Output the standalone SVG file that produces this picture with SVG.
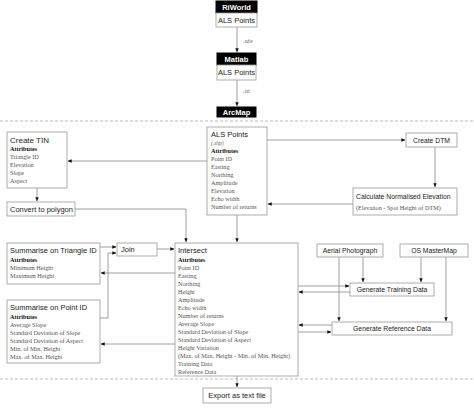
<svg xmlns="http://www.w3.org/2000/svg" width="474" height="412" viewBox="0 0 474 412">
<defs>
<marker id="ah" viewBox="0 0 6 6" refX="5.5" refY="3" markerWidth="4" markerHeight="4" orient="auto" markerUnits="userSpaceOnUse">
<path d="M0,0.5 L6,3 L0,5.5 z" fill="#111"/>
</marker>
<style>
.bx{fill:#fff;stroke:#999;stroke-width:0.8}
.bk{fill:#000;stroke:#000}
.t{font-family:"Liberation Sans","Open Sans",sans-serif;fill:#222}
.tw{font-family:"Liberation Sans","Open Sans",sans-serif;fill:#fff;font-size:7.5px;text-anchor:middle}
.s{font-family:"Liberation Serif","DejaVu Serif",serif;font-size:6.2px;fill:#555}
.sb{font-family:"Liberation Serif","DejaVu Serif",serif;font-size:6.2px;fill:#111;font-weight:bold}
.it{font-family:"Liberation Serif","DejaVu Serif",serif;font-size:5.5px;fill:#666;font-style:italic}
.c{fill:none;stroke:#888;stroke-width:0.8;marker-end:url(#ah)}
.cn{fill:none;stroke:#888;stroke-width:0.8}
.d{stroke:#aaa;stroke-width:0.8;stroke-dasharray:3,2}
</style>
</defs>
<rect width="474" height="412" fill="#fff"/>

<g id="connectors">
<path class="c" d="M237,27 V52"/>
<path class="c" d="M237,80 V106"/>
<path class="c" d="M207,161 H68"/>
<path class="c" d="M37,188 V201"/>
<path class="cn" d="M75,209 H186"/>
<path class="c" d="M186,209 V242"/>
<path class="c" d="M237,215 V242"/>
<path class="c" d="M267,140 H405"/>
<path class="c" d="M435,147 V187"/>
<path class="c" d="M353,204 H268"/>
<path class="c" d="M100,247 H116"/>
<path class="c" d="M100,318 H108 V253 H116"/>
<path class="c" d="M157,249 H174"/>
<path class="c" d="M175,273 H101"/>
<path class="c" d="M175,344 H101"/>
<path class="c" d="M237,376 V387"/>
<path class="c" d="M298,286 H349"/>
<path class="c" d="M350,292 H299"/>
<path class="c" d="M332,325 H299"/>
<path class="c" d="M298,332 H331"/>
<path class="c" d="M363,257 V282"/>
<path class="c" d="M339,257 V321"/>
<path class="c" d="M421,257 V282"/>
<path class="c" d="M446,257 V321"/>
<text class="it" x="243" y="43">.sdw</text>
<text class="it" x="243" y="93">.txt</text>
</g>

<line class="d" x1="0" y1="121" x2="474" y2="121"/>
<line class="d" x1="0" y1="379" x2="474" y2="379"/>

<g id="riworld">
<rect class="bk" x="216" y="1" width="41" height="12"/>
<text class="tw" x="236.5" y="10" font-weight="bold">RiWorld</text>
<rect class="bx" x="216" y="13" width="41" height="14"/>
<text class="t" x="236.5" y="23" font-size="7.5" text-anchor="middle">ALS Points</text>
</g>
<g id="matlab">
<rect class="bk" x="217" y="53" width="39" height="12"/>
<text class="tw" x="236.5" y="62" font-weight="bold">Matlab</text>
<rect class="bx" x="217" y="65" width="39" height="15"/>
<text class="t" x="236.5" y="75" font-size="7.5" text-anchor="middle">ALS Points</text>
</g>
<g id="arcmap">
<rect class="bk" x="217" y="107" width="39" height="10"/>
<text class="tw" x="236.5" y="115" font-weight="bold">ArcMap</text>
</g>

<g id="als-points">
<rect class="bx" x="207" y="127" width="60" height="88"/>
<text class="t" x="211" y="137" font-size="7.5">ALS Points</text>
<text class="it" x="211" y="145">(.shp)</text>
<text class="sb" x="211" y="153">Attributes</text>
<text class="s" x="211" y="161">Point ID</text>
<text class="s" x="211" y="169">Easting</text>
<text class="s" x="211" y="177">Northing</text>
<text class="s" x="211" y="185">Amplitude</text>
<text class="s" x="211" y="193">Elevation</text>
<text class="s" x="211" y="201">Echo width</text>
<text class="s" x="211" y="209">Number of returns</text>
</g>

<g id="create-tin">
<rect class="bx" x="7" y="132" width="60" height="56"/>
<text class="t" x="10" y="143" font-size="8">Create TIN</text>
<text class="sb" x="10" y="151">Attributes</text>
<text class="s" x="10" y="159">Triangle ID</text>
<text class="s" x="10" y="167">Elevation</text>
<text class="s" x="10" y="175">Slope</text>
<text class="s" x="10" y="183">Aspect</text>
</g>

<g id="convert-polygon">
<rect class="bx" x="7" y="202" width="68" height="14"/>
<text class="t" x="10" y="212" font-size="7.5">Convert to polygon</text>
</g>

<g id="create-dtm">
<rect class="bx" x="406" y="133" width="51" height="14"/>
<text class="t" x="431.5" y="143" font-size="6.8" text-anchor="middle">Create DTM</text>
</g>

<g id="calc-elevation">
<rect class="bx" x="353" y="188" width="104" height="27"/>
<text class="t" x="356" y="199" font-size="6.8">Calculate Normalised Elevation</text>
<text class="s" x="356" y="210">(Elevation - Spot Height of DTM)</text>
</g>

<g id="summarise-triangle">
<rect class="bx" x="7" y="243" width="93" height="41"/>
<text class="t" x="10" y="253" font-size="7.5">Summarise on Triangle ID</text>
<text class="sb" x="10" y="262">Attributes</text>
<text class="s" x="10" y="270">Minimum Height</text>
<text class="s" x="10" y="278">Maximum Height</text>
</g>

<g id="join">
<rect class="bx" x="117" y="243" width="40" height="13"/>
<text class="t" x="121" y="252" font-size="7.5">Join</text>
</g>

<g id="summarise-point">
<rect class="bx" x="7" y="300" width="93" height="63"/>
<text class="t" x="10" y="310" font-size="7.5">Summarise on Point ID</text>
<text class="sb" x="10" y="319">Attributes</text>
<text class="s" x="10" y="327">Average Slope</text>
<text class="s" x="10" y="335">Standard Deviation of Slope</text>
<text class="s" x="10" y="343">Standard Deviation of Aspect</text>
<text class="s" x="10" y="351">Min. of Min. Height</text>
<text class="s" x="10" y="359">Max. of Max. Height</text>
</g>

<g id="intersect">
<rect class="bx" x="175" y="243" width="123" height="133"/>
<text class="t" x="178" y="253" font-size="7.5">Intersect</text>
<text class="sb" x="178" y="262">Attributes</text>
<text class="s" x="178" y="270">Point ID</text>
<text class="s" x="178" y="278">Easting</text>
<text class="s" x="178" y="286">Northing</text>
<text class="s" x="178" y="294">Height</text>
<text class="s" x="178" y="302">Amplitude</text>
<text class="s" x="178" y="310">Echo width</text>
<text class="s" x="178" y="318">Number of returns</text>
<text class="s" x="178" y="326">Average Slope</text>
<text class="s" x="178" y="334">Standard Deviation of Slope</text>
<text class="s" x="178" y="342">Standard Deviation of Aspect</text>
<text class="s" x="178" y="350">Height Variation</text>
<text class="s" x="178" y="358">(Max. of Max. Height - Min. of Min. Height)</text>
<text class="s" x="178" y="366">Training Data</text>
<text class="s" x="178" y="374">Reference Data</text>
</g>

<g id="aerial-photo">
<rect class="bx" x="317" y="244" width="66" height="13"/>
<text class="t" x="350" y="253" font-size="6.8" text-anchor="middle">Aerial Photograph</text>
</g>
<g id="os-mastermap">
<rect class="bx" x="400" y="244" width="68" height="13"/>
<text class="t" x="434" y="253" font-size="6.8" text-anchor="middle">OS MasterMap</text>
</g>
<g id="training-data">
<rect class="bx" x="350" y="283" width="84" height="13"/>
<text class="t" x="392" y="292" font-size="6.8" text-anchor="middle">Generate Training Data</text>
</g>
<g id="reference-data">
<rect class="bx" x="332" y="322" width="120" height="13"/>
<text class="t" x="392" y="331" font-size="6.8" text-anchor="middle">Generate Reference Data</text>
</g>

<g id="export">
<rect class="bx" x="203" y="388" width="68" height="15"/>
<text class="t" x="237" y="398" font-size="7.5" text-anchor="middle">Export as text file</text>
</g>
</svg>
